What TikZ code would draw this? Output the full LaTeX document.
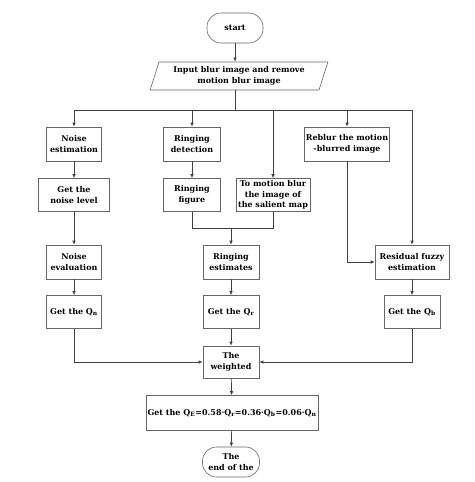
\documentclass[tikz,border=0pt]{standalone}
\usepackage{tikz}
\usepackage{fontspec}
\setmainfont{DejaVu Serif}
\usetikzlibrary{shapes.geometric,arrows.meta}

\tikzset{
  box/.style={draw=black!60,rectangle,line width=0.6pt,align=center,inner sep=1pt,
    font=\fontsize{8}{10.5}\selectfont\bfseries,minimum height=33pt},
  term/.style={box,rounded corners=14pt,minimum height=30pt},
  link/.style={draw=black!75,line width=0.7pt},
  arr/.style={link,-{Latex[length=4pt,width=3.5pt]}}
}

\begin{document}
\begin{tikzpicture}[x=1pt,y=-1pt]
\useasboundingbox (0,0) rectangle (474,482);

\node [term,minimum width=56pt] (start) at(235,28){start};
\node [box,trapezium,trapezium left angle=70,trapezium right angle=110,trapezium stretches,
  minimum width=178pt,minimum height=28pt] (in) at(239,76){Input blur image and remove\\motion blur image};

\coordinate (busL) at(74,110);
\coordinate (busR) at(412,110);

\node [box,minimum width=55pt,minimum height=34pt] (ne) at(74,144){Noise\\estimation};
\node [box,minimum width=71pt] (nl) at(74,195){Get the\\noise level};
\node [box,minimum width=55pt,minimum height=34pt] (nev) at(74,262){Noise\\evaluation};
\node [box,minimum width=55pt] (qn) at(74,312){Get the Q\textsubscript{n}};

\node [box,minimum width=57pt,minimum height=34pt] (rd) at(192,144){Ringing\\detection};
\node [box,minimum width=57pt] (rf) at(192,195){Ringing\\figure};
\node [box,minimum width=74pt] (sal) at(273,195){To motion blur\\the image of\\the salient map};
\coordinate (join) at(231,228);
\node [box,minimum width=56pt,minimum height=34pt] (re) at(231,262){Ringing\\estimates};
\node [box,minimum width=56pt] (qr) at(231,312){Get the Q\textsubscript{r}};

\node [box,minimum width=85pt,minimum height=34pt] (rb) at(347,144){Reblur the motion\\-blurred image};
\node [box,minimum width=74pt,minimum height=34pt] (res) at(412,262){Residual fuzzy\\estimation};
\node [box,minimum width=56pt] (qb) at(412,312){Get the Q\textsubscript{b}};

\node [box,minimum width=56pt,minimum height=32pt] (w) at(231,362){The\\weighted};
\node [box,minimum width=172pt,minimum height=35pt] (f) at(232,413){Get the Q\textsubscript{E}=0.58·Q\textsubscript{r}=0.36·Q\textsubscript{b}=0.06·Q\textsubscript{n}};
\node [term,minimum width=57pt] (end) at(231,462){The\\end of the};

\draw[arr](start) -- (start |- in.north);
\draw[link](start |- in.south) -- (start |- busL);
\draw[link](busL) -- (busR);

\draw[arr](busL) -- (ne);
\draw[arr](ne) -- (nl);
\draw[arr](nl) -- (nev);
\draw[arr](nev) -- (qn);

\draw[arr](rd |- busL) -- (rd);
\draw[arr](rd) -- (rf);
\draw[arr](sal |- busL) -- (sal);
\draw[link](rf.south) |- (join);
\draw[link](sal.south) |- (join);
\draw[arr](join) -- (re);
\draw[arr](re) -- (qr);

\draw[arr](rb |- busL) -- (rb);
\draw[arr](rb.south) |- (res.west);
\draw[arr](busR) -- (res);
\draw[arr](res) -- (qb);

\draw[arr](qn.south) |- (w.west);
\draw[arr](qb.south) |- (w.east);
\draw[arr](qr) -- (w);
\draw[arr](w) -- (f);
\draw[arr](f) -- (end);
\end{tikzpicture}
\end{document}
